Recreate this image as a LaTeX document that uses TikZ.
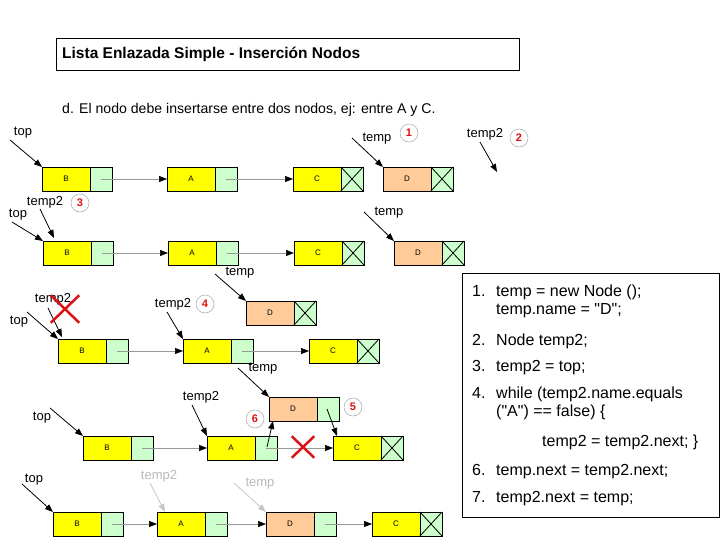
\documentclass[tikz,border=0pt]{standalone}
\usepackage{fontspec}
\setmainfont{Liberation Sans}[Ligatures=TeXOff]
\usetikzlibrary{arrows.meta,calc,shapes.misc}
\definecolor{cyel}{HTML}{FFFF00}
\definecolor{cgrn}{HTML}{CCFFCC}
\definecolor{corg}{HTML}{FFCC99}
\definecolor{cred}{HTML}{DD1111}
\tikzset{
 datacell/.style={draw=black, line width=0.8pt, minimum width=48pt, minimum height=24pt, inner sep=0pt, outer sep=0pt, anchor=north west, font=\fontsize{8}{9}\selectfont},
 ptrcell/.style={draw=black, line width=0.8pt, fill=cgrn, minimum width=22pt, minimum height=24pt, inner sep=0pt, outer sep=0pt, anchor=north west},
 link/.style={draw=gray!80, line width=0.7pt, -{Triangle[black,length=8pt,width=6pt]}},
 ptr/.style={draw=black, line width=0.8pt, -{Triangle[length=8pt,width=6pt]}},
 gptr/.style={draw=gray!45, line width=0.8pt, -{Triangle[length=8pt,width=6pt]}},
 lbl/.style={font=\fontsize{13}{15}\selectfont, inner sep=0pt},
 glbl/.style={lbl, text=gray!55},
 stepnum/.style={circle, draw=gray!70, line width=0.5pt, minimum size=18pt, inner sep=0pt, text=cred, font=\bfseries\fontsize{11}{12}\selectfont},
 crossmark/.style={cross out, draw=cred, line width=2.5pt, minimum width=24pt, minimum height=24pt, inner sep=0pt},
 code/.style={font=\fontsize{16}{18}\selectfont, inner sep=0pt, anchor=base west},
}
\newcommand\listcell[5]{\node[datacell,fill=#5] (#1) at (#2,#3) {#4};\node[ptrcell] (#1p) at (#1.north east) {};}
\newcommand\nullx[1]{\draw[line width=0.8pt] (#1p.north west) -- (#1p.south east) (#1p.north east) -- (#1p.south west);}
\begin{document}
\begin{tikzpicture}[x=1pt,y=-1pt]
\useasboundingbox (0,0) rectangle (728,546);
% title
\node[draw=black, line width=0.8pt, minimum width=463pt, minimum height=32pt, anchor=north west, inner sep=0pt] (title) at (56,38) {};
\node[anchor=west, inner sep=0pt, font=\bfseries\fontsize{15.5}{17}\selectfont] (titletext) at (62,54) {Lista Enlazada Simple - Inserción Nodos};
\node[anchor=west, inner sep=0pt, font=\fontsize{14.1}{16}\selectfont] (subtitle) at (62,110) {d. El nodo debe insertarse entre dos nodos, ej: entre A y C.};

% ---------- row 1
\listcell{b1}{42}{167}{B}{cyel}
\listcell{a1}{167}{167}{A}{cyel}
\listcell{c1}{293}{167}{C}{cyel}\nullx{c1}
\listcell{d1}{383}{167}{D}{corg}\nullx{d1}
\draw[link] (b1p.center) -- (a1.west);
\draw[link] (a1p.center) -- (c1.west);
\node[lbl] (top1) at (23,133) {top};
\coordinate (top1s) at (10,140);
\draw[ptr] (top1s) -- (b1.north west);
\node[lbl] (temp1) at (377,139) {temp};
\coordinate (temp1s) at (352,138);
\draw[ptr] (temp1s) -- (d1.north west);
\node[stepnum] (n1) at (409,133) {1};
\node[lbl] (tempb1) at (485,134) {temp2};
\coordinate (tempb1s) at (480,142);
\coordinate (tempb1e) at (497,172);
\draw[ptr] (tempb1s) -- (tempb1e);
\node[stepnum] (n2) at (519,138) {2};

% ---------- row 2
\listcell{b2}{43}{241}{B}{cyel}
\listcell{a2}{168}{241}{A}{cyel}
\listcell{c2}{294}{241}{C}{cyel}\nullx{c2}
\listcell{d2}{394}{241}{D}{corg}\nullx{d2}
\draw[link] (b2p.center) -- (a2.west);
\draw[link] (a2p.center) -- (c2.west);
\node[lbl] (tempb2) at (45,202) {temp2};
\node[stepnum] (n3) at (80,203) {3};
\node[lbl] (top2) at (18,215) {top};
\coordinate (top2s) at (12,222);
\draw[ptr] (top2s) -- (b2.north west);
\coordinate (tempb2s) at (40,209);
\coordinate (tempb2e) at ($(b2.north west)+(11,-3)$);
\draw[ptr] (tempb2s) -- (tempb2e);
\node[lbl] (temp2) at (389,213) {temp};
\coordinate (temp2s) at (364,212);
\draw[ptr] (temp2s) -- (d2.north west);

% ---------- row 3
\listcell{b3}{58}{339}{B}{cyel}
\listcell{a3}{183}{339}{A}{cyel}
\listcell{c3}{309}{339}{C}{cyel}\nullx{c3}
\listcell{d3}{246}{301}{D}{corg}\nullx{d3}
\draw[link] (b3p.center) -- (a3.west);
\draw[link] (a3p.center) -- (c3.west);
\node[lbl] (temp3) at (240,273) {temp};
\coordinate (temp3s) at (215,274);
\draw[ptr] (temp3s) -- (d3.north west);
\node[lbl] (tempb3x) at (53,299) {temp2};
\coordinate (tempb3xs) at (48,308);
\coordinate (tempb3xe) at ($(b3.north west)+(4,-2)$);
\draw[ptr] (tempb3xs) -- (tempb3xe);
\node[crossmark, minimum width=26pt, minimum height=25pt] (x1) at (65,309) {};
\node[lbl] (top3) at (19,322) {top};
\coordinate (top3s) at (27,312);
\draw[ptr] (top3s) -- (b3.north west);
\node[lbl] (tempb3) at (173,304) {temp2};
\node[stepnum] (n4) at (205,304) {4};
\coordinate (tempb3s) at (167,312);
\draw[ptr] (tempb3s) -- (a3.north west);
\node[lbl] (temp3b) at (263,369) {temp};
\coordinate (temp3bs) at (238,368);

% ---------- row 4
\listcell{b4}{83}{436}{B}{cyel}
\listcell{a4}{207}{436}{A}{cyel}
\listcell{c4}{333}{436}{C}{cyel}\nullx{c4}
\listcell{d4}{269}{397}{D}{corg}
\draw[ptr] (temp3bs) -- (d4.north west);
\draw[link] (b4p.center) -- (a4.west);
\draw[link] (a4p.center) -- (c4.west);
\node[crossmark, minimum width=20pt, minimum height=19pt] (x2) at (303,447) {};
\coordinate (a4s) at (267,447);
\coordinate (d4e) at (273,421);
\draw[ptr] (a4s) -- (d4e);
\coordinate (d4s) at (327,409);
\coordinate (c4e) at (337,436);
\draw[ptr] (d4s) -- (c4e);
\node[stepnum] (n5) at (353,407) {5};
\node[stepnum] (n6) at (255,419) {6};
\node[lbl] (top4) at (42,418) {top};
\coordinate (top4s) at (50,408);
\draw[ptr] (top4s) -- (b4.north west);
\node[lbl] (tempb4) at (201,397) {temp2};
\coordinate (tempb4s) at (192,405);
\draw[ptr] (tempb4s) -- (a4.north west);

% ---------- row 5
\listcell{b5}{53}{512}{B}{cyel}
\listcell{a5}{157}{512}{A}{cyel}
\listcell{d5}{266}{512}{D}{corg}
\listcell{c5}{372}{512}{C}{cyel}\nullx{c5}
\draw[link] (b5p.center) -- (a5.west);
\draw[link] (a5p.center) -- (d5.west);
\draw[link] (d5p.center) -- (c5.west);
\node[lbl] (top5) at (34,480) {top};
\coordinate (top5s) at (22,484);
\draw[ptr] (top5s) -- (b5.north west);
\node[glbl] (tempb5) at (159,476) {temp2};
\coordinate (tempb5s) at (150,483);
\coordinate (tempb5e) at ($(a5.north west)+(8,0)$);
\draw[gptr] (tempb5s) -- (tempb5e);
\node[glbl] (temp5) at (260,484) {temp};
\coordinate (temp5s) at (234,483);
\draw[gptr] (temp5s) -- (d5.north west);

% ---------- code box
\node[draw=black, line width=0.8pt, minimum width=257pt, minimum height=244pt, anchor=north west, inner sep=0pt] (codebox) at (462,273) {};
\node[code] (c1n) at (472,296) {1.};
\node[code] (c1a) at (496,296) {temp = new Node ();};
\node[code] (c1b) at (496,314) {temp.name = "D";};
\node[code] (c2n) at (472,345) {2.};
\node[code] (c2a) at (496,345) {Node temp2;};
\node[code] (c3n) at (472,371) {3.};
\node[code] (c3a) at (496,371) {temp2 = top;};
\node[code] (c4n) at (472,398) {4.};
\node[code] (c4a) at (496,398) {while (temp2.name.equals};
\node[code] (c4b) at (496,416) {("A") == false) \{};
\node[code] (c4c) at (542,446) {temp2 = temp2.next; \}};
\node[code] (c6n) at (472,475) {6.};
\node[code] (c6a) at (496,475) {temp.next = temp2.next;};
\node[code] (c7n) at (472,502) {7.};
\node[code] (c7a) at (496,502) {temp2.next = temp;};
\end{tikzpicture}
\end{document}
